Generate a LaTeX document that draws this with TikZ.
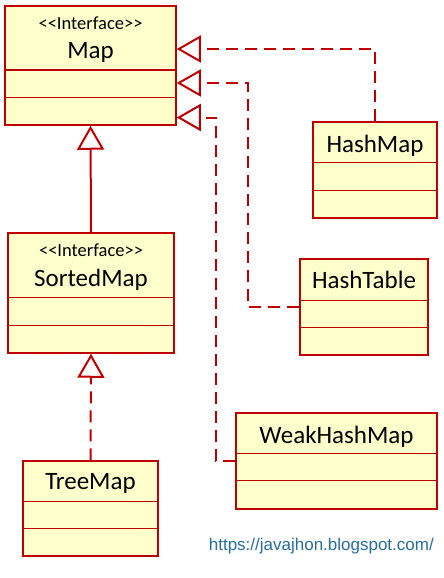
\documentclass[tikz,border=0pt]{standalone}
\usepackage{fontspec}
\setmainfont{Carlito}
\newfontfamily\urlfont{Liberation Sans}
\usetikzlibrary{arrows.meta}
\definecolor{umlred}{RGB}{192,0,0}
\definecolor{umlfill}{RGB}{255,255,204}
\definecolor{urlblue}{RGB}{38,110,158}
\tikzset{
  classbox/.style={draw=umlred, fill=umlfill, line width=1.5pt, inner sep=0pt, rectangle},
  divider/.style={draw=umlred, line width=1.5pt},
  classname/.style={font=\fontsize{25}{29}\selectfont, anchor=base, inner sep=0pt},
  stereo/.style={font=\fontsize{18.5}{21}\selectfont, anchor=base, inner sep=0pt},
  rel/.style={draw=umlred, line width=2pt, -{Triangle[open, length=24pt, width=27pt]}},
  reldash/.style={rel, dash pattern=on 12pt off 7pt},
}
\newcommand\umlclass[6]{%
  \node[classbox, minimum width=#3pt, minimum height=#4pt] (#1) at (#2) {};
  \draw[divider] ([yshift=-#5pt]#1.north west) -- ([yshift=-#5pt]#1.north east);
  \draw[divider] ([yshift=-#6pt]#1.north west) -- ([yshift=-#6pt]#1.north east);
}
\begin{document}
\begin{tikzpicture}[x=1pt, y=-1pt]
\useasboundingbox (0,0) rectangle (444,578);
% classes
\umlclass{map}{90.5,65.5}{171}{119}{65}{92}
\umlclass{sortedmap}{91,293}{166}{120}{65}{93}
\umlclass{treemap}{90.5,508.5}{135}{95}{41}{68}
\umlclass{hashmap}{375,170}{124}{96}{41}{69}
\umlclass{hashtable}{364,307}{128}{96}{42}{69}
\umlclass{weakhashmap}{336.5,461}{201}{96}{41}{68}
% texts
\node[stereo] (st-map) at (90.5,30) {<{}<Interface>{}>};
\node[classname] (t-map) at (90.5,59) {Map};
\node[stereo] (st-sorted) at (91,256.5) {<{}<Interface>{}>};
\node[classname] (t-sorted) at (91,286.5) {SortedMap};
\node[classname] (t-tree) at (90.5,489) {TreeMap};
\node[classname] (t-hashmap) at (375,152) {HashMap};
\node[classname] (t-hashtable) at (364,288) {HashTable};
\node[classname] (t-weak) at (336.5,443) {WeakHashMap};
\node[anchor=base east, inner sep=0pt, text=urlblue, font=\urlfont\fontsize{17}{20}\selectfont] (url) at (434,550) {https://javajhon.blogspot.com/};
% relations
\draw[rel] (sortedmap.north) -- (map.south);
\draw[reldash] (treemap.north) -- (sortedmap.south);
\draw[reldash] (hashmap.north) |- ([yshift=16.5pt]map.east);
\draw[reldash] (hashtable.west) -- ++(-51,0) |- ([yshift=-17.5pt]map.east);
\draw[reldash] (weakhashmap.west) -- ++(-19,0) |- ([yshift=-52pt]map.east);
\end{tikzpicture}
\end{document}
